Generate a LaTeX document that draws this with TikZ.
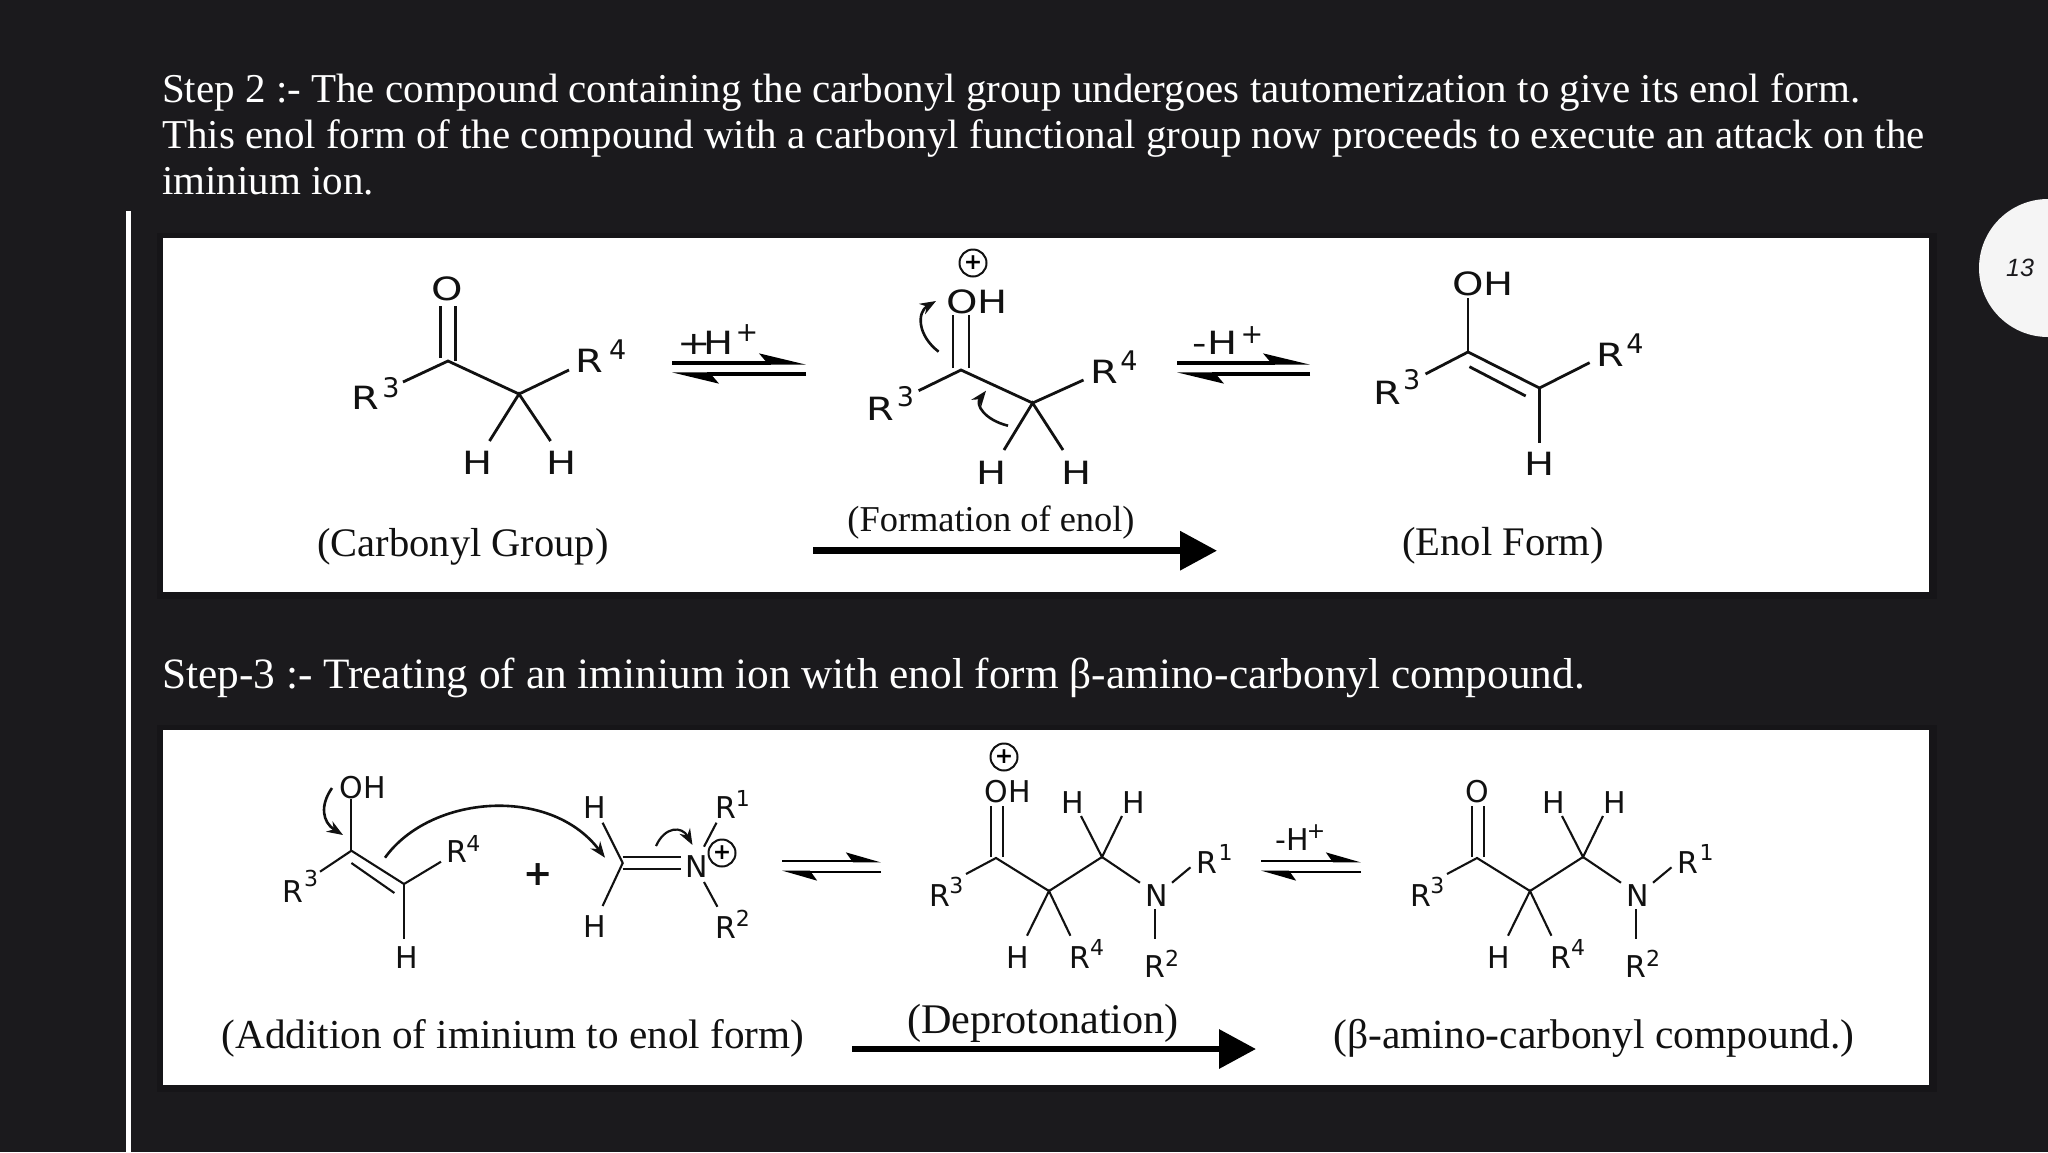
\documentclass[tikz,border=0pt]{standalone}
\usepackage{fontspec}
\setmainfont{Liberation Serif}
\newfontfamily\atomwide[FakeStretch=1.25]{DejaVu Sans}
\newfontfamily\atomfont{DejaVu Sans}
\newfontfamily\numfont{Liberation Sans}
\usetikzlibrary{arrows.meta, positioning, calc}

\definecolor{slidebg}{HTML}{1B1A1D}
\definecolor{halo}{HTML}{161518}
\definecolor{badge}{HTML}{F5F5F5}
\definecolor{ink}{HTML}{111111}

\tikzset{
  bond/.style={ink, line width=2.8pt},
  thinbond/.style={ink, line width=2.1pt},
  atomA/.style={ink, inner sep=0pt, font=\atomwide\fontsize{32}{32}\selectfont},
  supA/.style={ink, inner sep=0pt, font=\atomfont\fontsize{27}{27}\selectfont},
  atomB/.style={ink, inner sep=0pt, font=\atomfont\fontsize{30}{30}\selectfont},
  supB/.style={ink, inner sep=0pt, font=\atomfont\fontsize{22}{22}\selectfont},
  chg/.style={draw=ink, circle, line width=2pt, inner sep=0pt, minimum size=27pt,
    font=\atomfont\bfseries\fontsize{22}{22}\selectfont},
  caption/.style={ink, inner sep=0pt, font=\fontsize{#1}{#1}\selectfont},
  curly/.style={ink, line width=2.6pt, -{Stealth[length=16pt,width=12pt]}},
  bigarrow/.style={black, line width=6.5pt, -{Triangle[length=37pt,width=38pt]}},
  eqbig/.style={black, line width=3.2pt, -{Stealth[harpoon,length=40pt,width=19pt,inset=8pt]}},
  eqsmall/.style={black, line width=2.8pt, -{Stealth[harpoon,length=30pt,width=17pt,inset=6pt]}},
  panel/.style={fill=white, draw=none}
}

\begin{document}
\begin{tikzpicture}[x=1pt, y=-1pt]
  \useasboundingbox (0,0) rectangle (2048,1152);

  % Slide background
  \fill[slidebg] (0,0) rectangle (2048,1152);
  \fill[white] (126,211) rectangle (131,1152);
  \fill[halo] (157,233) rectangle (1937,599);
  \fill[halo] (157,725) rectangle (1937,1092);
  \fill[panel] (163,238) rectangle (1929,592);
  \fill[panel] (163,730) rectangle (1929,1085);

  % Page badge
  \fill[badge] (2048,268) circle (69);
  \node[inner sep=0pt, text=slidebg, font=\numfont\itshape\fontsize{25}{25}\selectfont] (page) at (2020,268) {13};

  % Headings
  \node[anchor=base west, align=left, inner sep=0pt, text=white, font=\fontsize{41}{46}\selectfont] (stepii) at (162,194)
    {Step 2 :- The compound containing the carbonyl group undergoes tautomerization to give its enol form.\\
     This enol form of the compound with a carbonyl functional group now proceeds to execute an attack on the\\
     iminium ion.};
  \node[anchor=base west, inner sep=0pt, text=white, font=\fontsize{43.3}{46}\selectfont] (stepiii) at (162,688)
    {Step-3 :- Treating of an iminium ion with enol form β-amino-carbonyl compound.};

  % Carbonyl compound
  \coordinate (A1) at (448,361);
  \coordinate (A2) at (519,394);
  \draw[bond] (403,382) -- (A1) -- (A2) -- (569,370);
  \draw[bond] (489.5,441) -- (A2) -- (550.6,441);
  \draw[bond] (440.5,358) -- (440.5,306);
  \draw[bond] (455.5,361) -- (455.5,306);

  % Protonated carbonyl
  \coordinate (B1) at (961,370);
  \coordinate (B2) at (1032.6,403);
  \draw[bond] (918.6,390.7) -- (B1) -- (B2) -- (1083.5,380);
  \draw[bond] (1004,450) -- (B2) -- (1063,450);
  \draw[bond] (953,368) -- (953,315);
  \draw[bond] (969,368) -- (969,315);
  \draw[curly] (938.6,351.7) .. controls (917,335) and (917,312) .. (936,301);
  \draw[curly] (1008,425.7) .. controls (985,420) and (975,405) .. (986,390.7);
  \node[chg] (chga) at (973,263) {+};

  % Enol
  \coordinate (C1) at (1468,352);
  \coordinate (C2) at (1539.5,388);
  \draw[bond] (1425.5,374) -- (C1) -- (C2) -- (1589.6,362.7);
  \draw[bond] (C1) -- (1468,298);
  \draw[bond] (C2) -- (1539.5,443);
  \draw[bond] (1469.4,366.7) -- (1525.7,396);

  % Panel one labels
  \foreach \name/\x/\y/\txt in {oa/447/289/O, ra/365/398/R, rb/589.5/361/R, ha/478/463/H, hb/562/463/H,
    ob/977/302/OH, rc/880/409/R, rd/1104/372/R, hc/992/473/H, hd/1076.5/473/H,
    oc/1483/284/OH, re/1387/393/R, rf/1610.4/355/R, he/1540/464/H,
    hpa/705.5/343/+\kern-8pt H, hma/1215/343/-H} {
    \node[atomA] (\name) at (\x,\y) {\txt};
  }
  \foreach \name/\x/\y/\txt in {sa/391/388/3, sb/617.6/350/4, sc/905.5/397/3, sd/1129/361/4,
    se/1411.7/380/3, sf/1635/344/4, pa/747/333/+, pb/1252/335/+} {
    \node[supA] (\name) at (\x,\y) {\txt};
  }

  % Enol attacking the iminium
  \coordinate (D1) at (351.4,850.7);
  \coordinate (D2) at (404,884);
  \draw[thinbond] (320,871.7) -- (D1) -- (D2) -- (441,861.7);
  \draw[thinbond] (D1) -- (351.4,799);
  \draw[thinbond] (D2) -- (404,939);
  \draw[thinbond] (351.4,863) -- (394.4,893);
  \draw[curly] (332,788) .. controls (320,805) and (322,822) .. (343,835);
  \draw[curly] (385,857.7) .. controls (430,795) and (550,785) .. (605,857.7);
  \node[ink, inner sep=0pt, font=\atomfont\bfseries\fontsize{35}{35}\selectfont] (plus) at (538,875) {+};

  % Iminium ion
  \coordinate (E1) at (622.7,863);
  \draw[thinbond] (602.6,822.7) -- (E1) -- (602.6,906);
  \draw[thinbond] (622.7,857) -- (680.6,857);
  \draw[thinbond] (622.7,869.3) -- (680.6,869.3);
  \draw[thinbond] (704,846.7) -- (716.5,822.7);
  \draw[thinbond] (704,882) -- (717.4,906.7);
  \draw[curly, line width=2.2pt] (656,846) .. controls (665,826) and (682,826) .. (692.5,845);
  \node[chg] (chgb) at (722,853) {+};

  % Protonated and neutral amino carbonyl
  \foreach \dx/\lab in {0/f, 481/g} {
    \begin{scope}[xshift=\dx pt]
      \coordinate (\lab1) at (996,858);
      \coordinate (\lab2) at (1049,891);
      \coordinate (\lab3) at (1102,857);
      \draw[thinbond] (966,874) -- (\lab1) -- (\lab2) -- (\lab3) -- (1140,882.7);
      \draw[thinbond] (1081,816) -- (\lab3) -- (1122,816);
      \draw[thinbond] (1027,935.7) -- (\lab2) -- (1070.4,935.7);
      \draw[thinbond] (991,857) -- (991,806);
      \draw[thinbond] (1003,857) -- (1003,806);
      \draw[thinbond] (1172,882.7) -- (1190.5,867.3);
      \draw[thinbond] (1154.6,909) -- (1154.6,939);
      \foreach \name/\x/\y/\txt in {n/1156.6/896/N, ra/1207/863/R, rb/1155.3/967/R, rc/939.8/896/R, rd/1080.4/958/R,
        ha/1018/958/H, hb/1072.4/803/H, hc/1133.4/803/H} {
        \node[atomB] (\lab\name) at (\x,\y) {\txt};
      }
      \foreach \name/\x/\y/\txt in {sa/1225.6/852/1, sb/1172/958/2, sc/956.4/885/3, sd/1097/947/4} {
        \node[supB] (\lab\name) at (\x,\y) {\txt};
      }
    \end{scope}
  }
  \node[atomB] (oh) at (1008,792) {OH};
  \node[atomB] (oxo) at (1477,792) {O};
  \node[chg] (chgc) at (1004,757) {+};

  % Panel two labels
  \foreach \name/\x/\y/\txt in {og/363/788/OH, rg/292.5/892/R, rh/456.7/852/R, hg/406.4/958/H,
    hh/594.4/808/H, hi/594.4/927/H, ni/696.8/867/N, ri/725.6/808/R, rj/725.6/928/R, hmb/1292/840/-H} {
    \node[atomB] (\name) at (\x,\y) {\txt};
  }
  \foreach \name/\x/\y/\txt in {sg/311/878/3, sh/473.4/843/4, si/742.8/798/1, sj/742.8/918/2, pc/1316/832/+} {
    \node[supB] (\name) at (\x,\y) {\txt};
  }

  % Equilibrium arrows
  \foreach \name/\xa/\xb in {eqa/672/806, eqb/1177/1310} {
    \coordinate (\name l) at (\xa,363);
    \coordinate (\name r) at (\xb,363);
    \coordinate (\name m) at (\xa,374);
    \coordinate (\name n) at (\xb,374);
    \draw[eqbig] (\name l) -- (\name r);
    \draw[eqbig] (\name n) -- (\name m);
  }
  \foreach \name/\xa/\xb in {eqc/782/881, eqd/1261/1361} {
    \coordinate (\name l) at (\xa,861);
    \coordinate (\name r) at (\xb,861);
    \coordinate (\name m) at (\xa,872);
    \coordinate (\name n) at (\xb,872);
    \draw[eqsmall] (\name l) -- (\name r);
    \draw[eqsmall] (\name n) -- (\name m);
  }

  % Captions and long arrows
  \node[caption=40.5] (capa) at (463,547) {(Carbonyl Group)};
  \node[caption=36.4] (capb) at (991,523) {(Formation of enol)};
  \node[caption=40.6] (capc) at (1503,546) {(Enol Form)};
  \node[caption=41.2] (capd) at (513,1038) {(Addition of iminium to enol form)};
  \node[caption=42.2] (cape) at (1043,1023) {(Deprotonation)};
  \node[caption=41.5] (capf) at (1594,1038) {(β-amino-carbonyl compound.)};
  \coordinate (arra) at (813,550.7);
  \coordinate (arrb) at (1217,550.7);
  \coordinate (arrc) at (852,1049);
  \coordinate (arrd) at (1256,1049);
  \draw[bigarrow] (arra) -- (arrb);
  \draw[bigarrow] (arrc) -- (arrd);
\end{tikzpicture}
\end{document}
